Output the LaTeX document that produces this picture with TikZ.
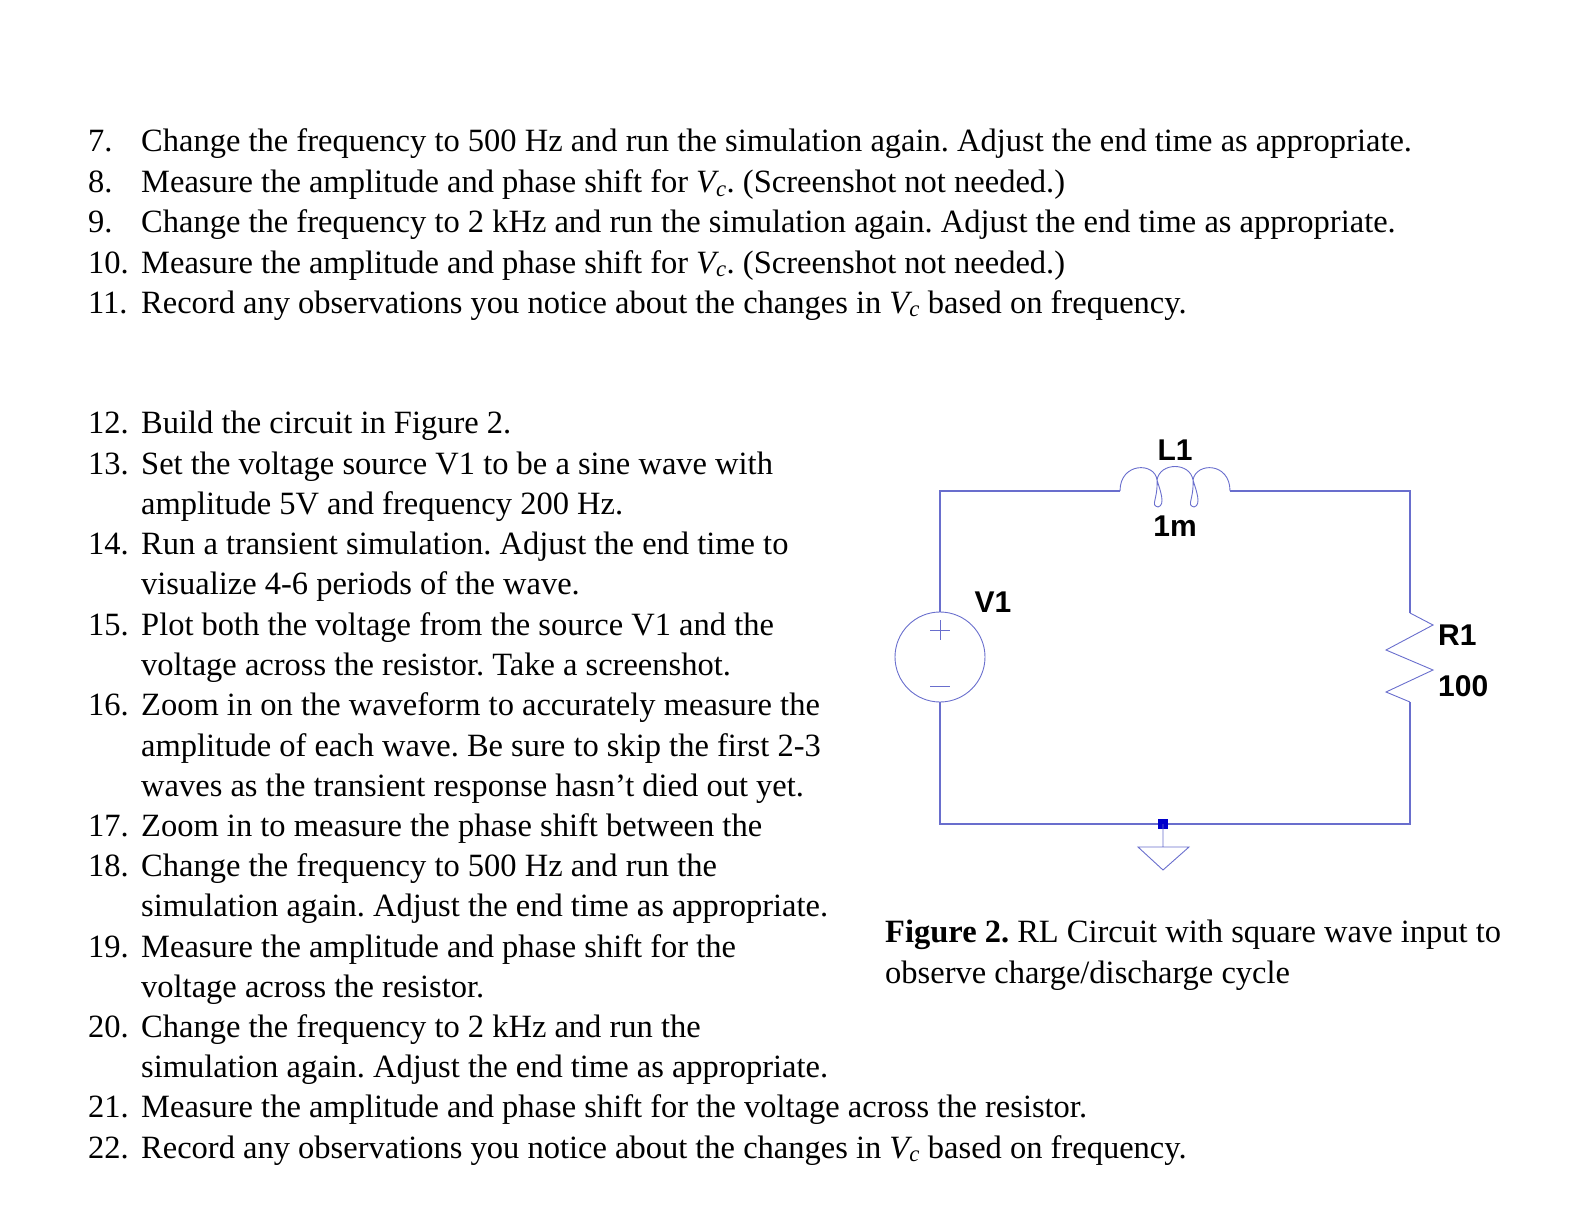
\documentclass[tikz,border=0pt]{standalone}
\usepackage{fontspec}
\setmainfont{Liberation Serif}
\newfontfamily\lab{Liberation Sans}
\frenchspacing
\begin{document}
\begin{tikzpicture}[x=1pt,y=-1pt,
  txt/.style={anchor=base west,inner sep=0pt,font=\fontsize{32.5}{38}\selectfont},
  wire/.style={draw={rgb,255:red,105;green,110;blue,205},line width=1.2pt},
  clab/.style={inner sep=0pt,font=\lab\bfseries\fontsize{30}{34}\selectfont}]
\useasboundingbox (0,0) rectangle (1593,1209);
\newcommand{\Vc}{{\itshape V}\textsubscript{\itshape c}}
% numbered lines
\foreach \n/\y in {7./152,8./193,9./233,10./273,11./313,12./433,13./474,14./554,15./635,16./715,17./836,18./876,19./957,20./1037,21./1117,22./1158}
  \node[txt] (n\y) at (88,\y) {\n};
\node[txt] (t7) at (141,152) {Change the frequency to 500 Hz and run the simulation again. Adjust the end time as appropriate.};
\node[txt] (t8) at (141,193) {Measure the amplitude and phase shift for \Vc. (Screenshot not needed.)};
\node[txt] (t9) at (141,233) {Change the frequency to 2 kHz and run the simulation again. Adjust the end time as appropriate.};
\node[txt] (t10) at (141,273) {Measure the amplitude and phase shift for \Vc. (Screenshot not needed.)};
\node[txt] (t11) at (141,313) {Record any observations you notice about the changes in \Vc{} based on frequency.};
\node[txt] (t12) at (141,433) {Build the circuit in Figure 2.};
\node[txt] (t13) at (141,474) {Set the voltage source V1 to be a sine wave with};
\node[txt] (t13b) at (141,514) {amplitude 5V and frequency 200 Hz.};
\node[txt] (t14) at (141,554) {Run a transient simulation. Adjust the end time to};
\node[txt] (t14b) at (141,594) {visualize 4-6 periods of the wave.};
\node[txt] (t15) at (141,635) {Plot both the voltage from the source V1 and the};
\node[txt] (t15b) at (141,675) {voltage across the resistor. Take a screenshot.};
\node[txt] (t16) at (141,715) {Zoom in on the waveform to accurately measure the};
\node[txt] (t16b) at (141,756) {amplitude of each wave. Be sure to skip the first 2-3};
\node[txt] (t16c) at (141,796) {waves as the transient response hasn’t died out yet.};
\node[txt] (t17) at (141,836) {Zoom in to measure the phase shift between the};
\node[txt] (t18) at (141,876) {Change the frequency to 500 Hz and run the};
\node[txt] (t18b) at (141,916) {simulation again. Adjust the end time as appropriate.};
\node[txt] (t19) at (141,957) {Measure the amplitude and phase shift for the};
\node[txt] (t19b) at (141,997) {voltage across the resistor.};
\node[txt] (t20) at (141,1037) {Change the frequency to 2 kHz and run the};
\node[txt] (t20b) at (141,1077) {simulation again. Adjust the end time as appropriate.};
\node[txt] (t21) at (141,1117) {Measure the amplitude and phase shift for the voltage across the resistor.};
\node[txt] (t22) at (141,1158) {Record any observations you notice about the changes in \Vc{} based on frequency.};
\node[txt] (cap1) at (885,942) {\textbf{Figure 2.} RL Circuit with square wave input to};
\node[txt] (cap2) at (885,983) {observe charge/discharge cycle};
% circuit
\coordinate (tl) at (940,491); \coordinate (tr) at (1410,491);
\coordinate (bl) at (940,824); \coordinate (br) at (1410,824);
\coordinate (la) at (1120,491); \coordinate (lb) at (1230,491);
\coordinate (ra) at (1410,613); \coordinate (rb) at (1410,702);
\node[wire,circle,minimum size=90pt,inner sep=0pt,line width=0.9pt] (v1) at (940,657) {};
\draw[wire] (v1.north) -- (tl) -- (la);
\draw[wire] (lb) -- (tr) -- (ra);
\draw[wire] (rb) -- (br) -- (bl) -- (v1.south);
% inductor
\draw[wire,line width=0.9pt] (la) .. controls (1120,462) and (1155,462) .. (1157,480)
  .. controls (1158,500) and (1150,505) .. (1158,507)
  .. controls (1166,505) and (1160,490) .. (1157,480)
  .. controls (1160,462) and (1190,462) .. (1193,480)
  .. controls (1194,500) and (1186,505) .. (1194,507)
  .. controls (1202,505) and (1196,490) .. (1193,480)
  .. controls (1196,462) and (1230,462) .. (lb);
% resistor
\draw[wire,line width=0.9pt] (ra) -- (1433,625) -- (1386,650) -- (1433,670) -- (1386,692) -- (rb);
% plus/minus
\draw[wire,line width=0.8pt] (930,630) -- (950,630) (940,620) -- (940,640);
\draw[wire,line width=0.8pt] (930,686) -- (950,686);
% ground
\coordinate (g) at (1163,824); \coordinate (gb) at (1163,847);
\fill[blue!80!black] (1158,819) rectangle (1168,829);
\draw[wire,line width=0.9pt] (g) -- (gb) (1138,847) -- (1189,847) -- (1163,870) -- cycle;
% labels
\node[clab] (l1) at (1175,450) {L1};
\node[clab] (l1v) at (1175,526) {1m};
\node[clab] (v1l) at (993,602) {V1};
\node[clab,anchor=west] (r1) at (1438,635) {R1};
\node[clab,anchor=west] (r1v) at (1438,686) {100};
\end{tikzpicture}
\end{document}
